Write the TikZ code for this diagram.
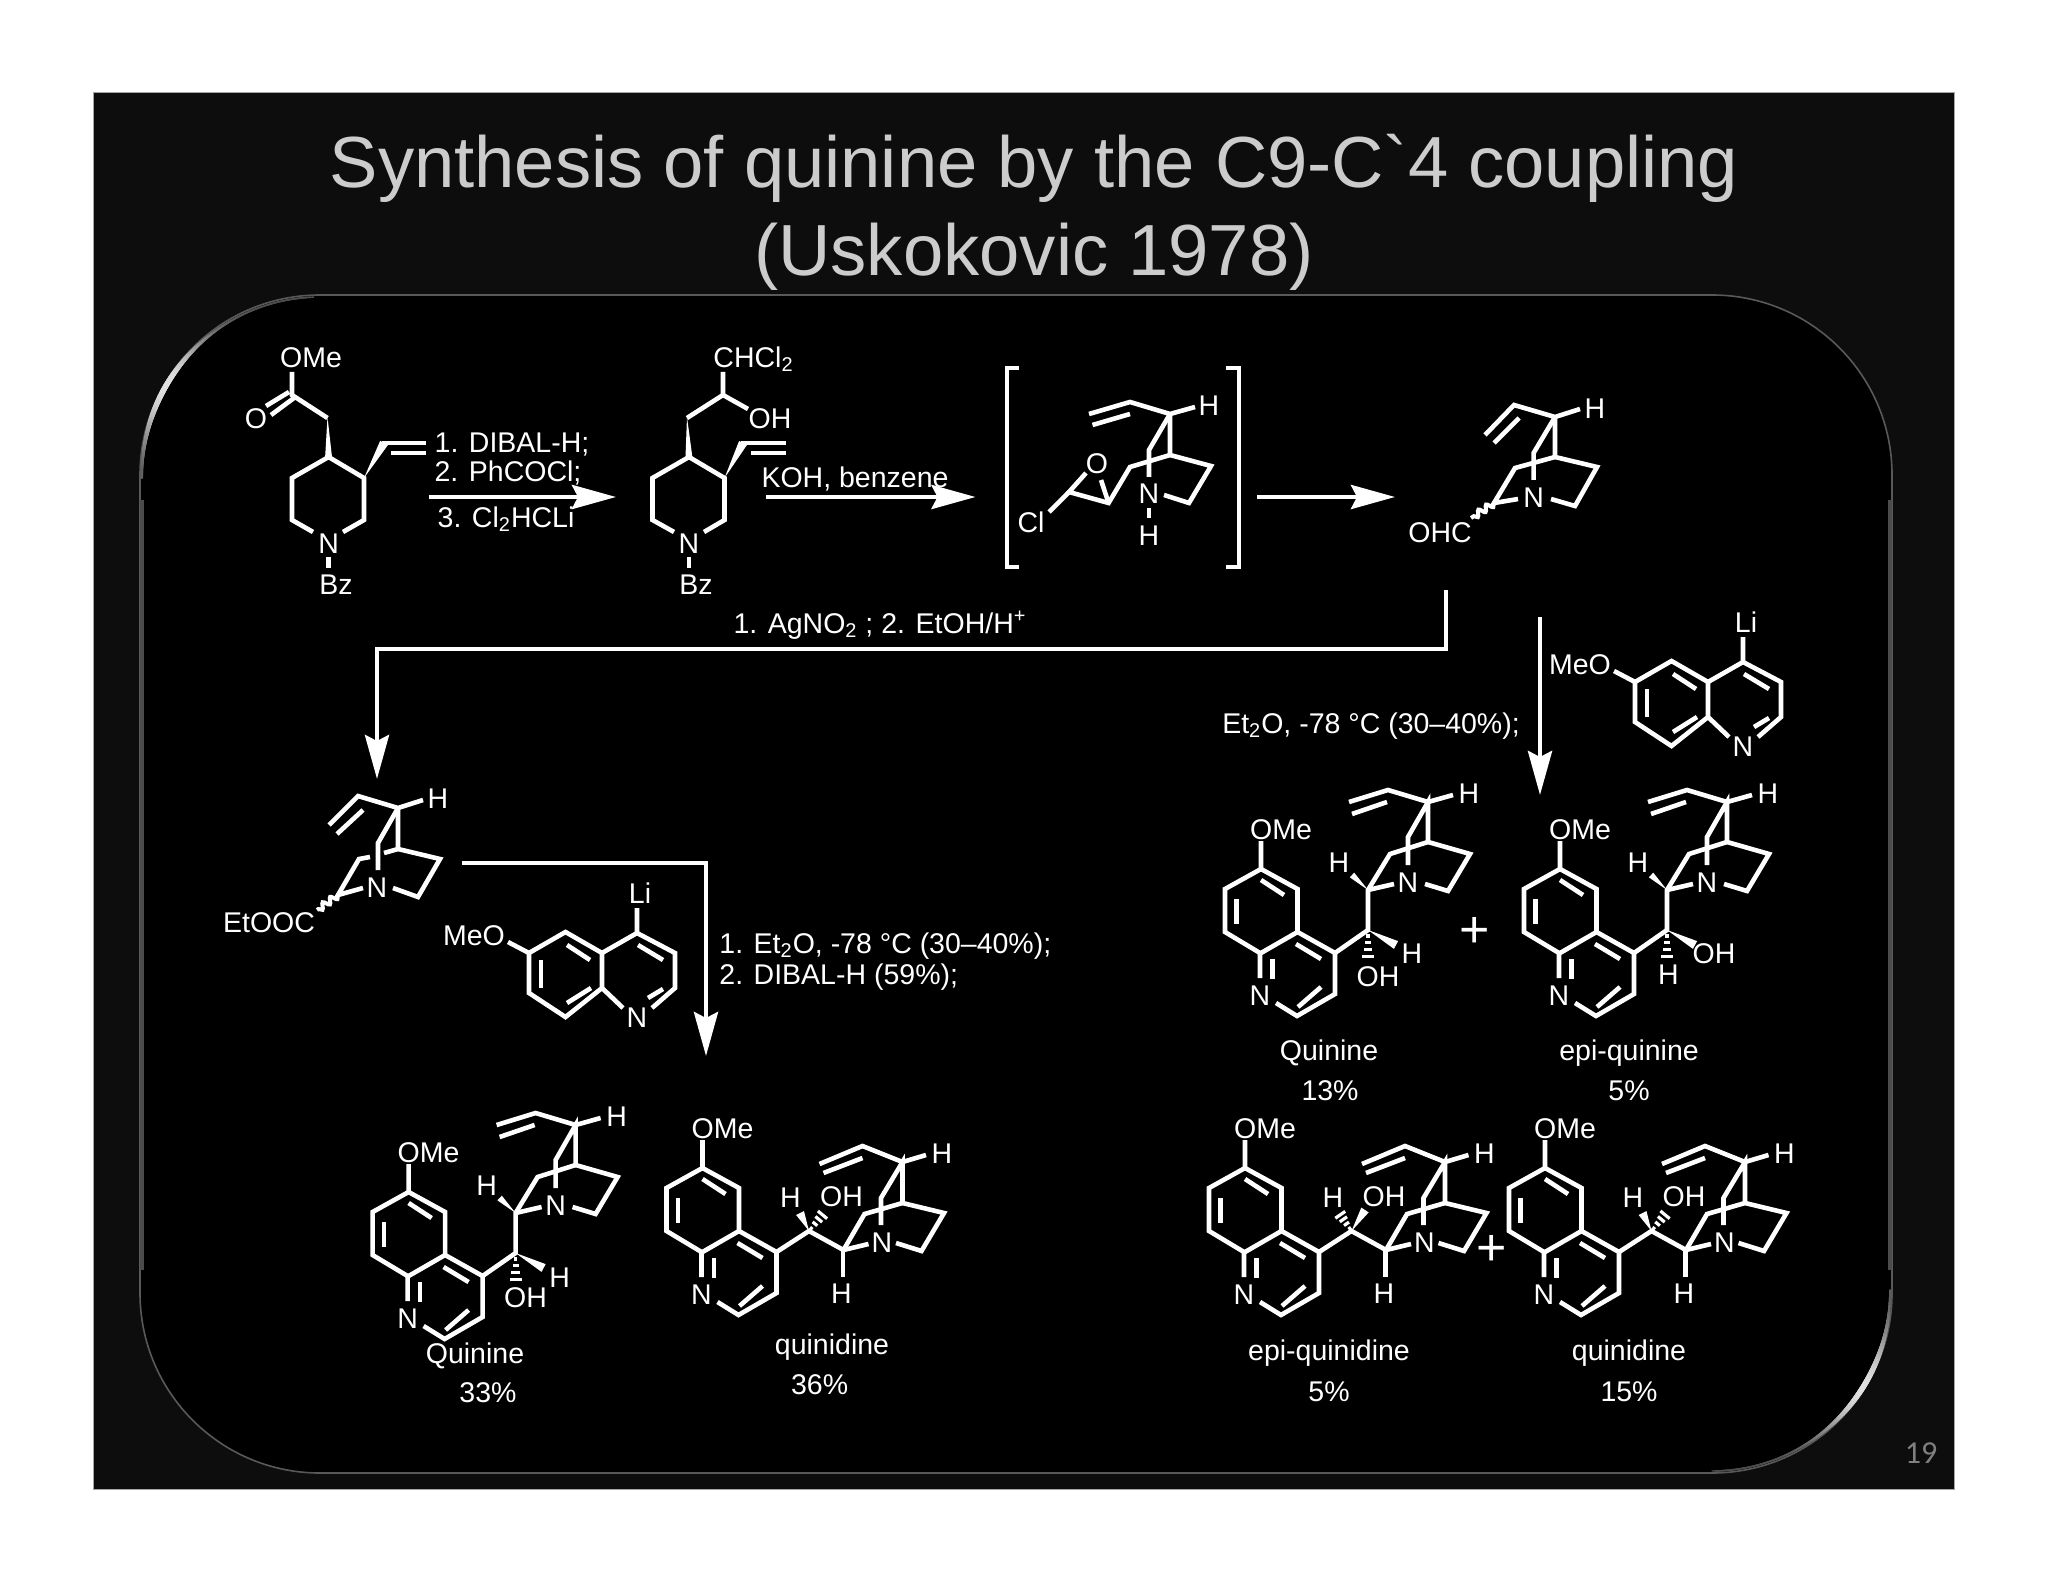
\documentclass[tikz,border=0pt]{standalone}
\usepackage{fontspec}
\setmainfont{Liberation Sans}
\newfontfamily\titlefont{Liberation Sans}
\newfontfamily\numfont{Carlito}
\usetikzlibrary{arrows.meta,calc,decorations.pathmorphing}

\tikzset{
    bond/.style={draw=white,line width=2.3pt},
    lbl/.style={text=white,inner sep=0pt,font=\fontsize{14.25}{16}\selectfont,text height=10.2pt,text depth=0pt},
    rxn/.style={draw=white,line width=2.3pt,-{Stealth[length=22pt,width=12pt,inset=3pt]}},
    wavy/.style={draw=white,line width=2pt,decorate,decoration={snake,amplitude=1.5pt,segment length=4.6pt}},
    titletext/.style={text=black!20!white,inner sep=0pt,font=\titlefont\fontsize{36.2}{40}\selectfont}
}

\newcommand{\wedgeb}[3][2.2pt]{%
    \fill[white] #2 -- ($#3!#1!90:#2$) -- ($#3!#1!-90:#2$) -- cycle;
}
\newcommand{\hashb}[2]{%
    \foreach \f/\w in {0.15/0.8pt,0.4/1.5pt,0.65/2.2pt,0.9/3pt}{
        \coordinate (hc) at ($#1!\f!#2$);
        \draw[bond,line width=1.6pt] ($(hc)!\w!90:#2$) -- ($(hc)!\w!-90:#2$);
    }
}
\newcommand{\gloss}[4]{%
    \foreach \a in {#3,...,#4}{
        \pgfmathsetmacro\lev{exp(-((\a-(#3+58))/20)^2)}
        \pgfmathsetmacro\gry{30+58*\lev}
        \pgfmathsetmacro\wid{0.7+1.9*\lev}
        \draw[color=white!\gry!black,line width=\wid pt,line cap=round]
            ({#1+178*cos(\a)},{#2-178*sin(\a)}) -- ({#1+178*cos(\a+3)},{#2-178*sin(\a+3)});
    }
}
% quinoline with the methoxy group on top, origin at C6
\newcommand{\quinolinering}[1]{%
    \draw[bond] (0,-28) -- (0,0) -- (36.5,20) -- (36.5,63) -- (74,84) -- (74,125) -- (36,147) -- (15,134);
    \draw[bond] (-1,109) -- (-1,84) -- (-36,63) -- (-36,20) -- (0,0);
    \draw[bond] (36.5,63) -- (0,84);
    \draw[bond] (0,11) -- (23,26);
    \draw[bond] (-24.5,30) -- (-24.5,55);
    \draw[bond] (35,75) -- (60,90);
    \draw[bond] (11.5,90) -- (11.5,110);
    \draw[bond] (37,138) -- (60,118);
    \node[lbl] (#1OMe) at (20,-40) {OMe};
    \node[lbl] (#1N) at (-1,126) {N};
}
\newcommand{\quininepart}[5]{%
    \draw[bond] (74,84) -- (107,61) -- (107,21) -- (129,-15) -- (167,-27);
    \draw[bond] (107,21) -- (133,15);
    \draw[bond] (147,-4) -- (147,-32) -- (167,-67) -- (167,-27) -- (209,-15) -- (187,22) -- (164,15);
    \draw[bond] (167,-67) -- (192,-74);
    \draw[bond] (167,-67) -- (127,-79) -- (88,-67);
    \draw[bond] (126,-67) -- (91,-55);
    \wedgeb[1.6pt]{(107,21)}{(91,6)}
    \wedgeb{(107,61)}{(135,76)}
    \hashb{(107,63)}{(107,90)}
    \node[lbl] (#1Ha) at (78,-7) {H};
    \node[lbl] (#1Na) at (147,13) {N};
    \node[lbl] (#1Hb) at (208,-76) {H};
    \node[lbl] (#1Wd) at #2 {#3};
    \node[lbl] (#1Hs) at #4 {#5};
}
\newcommand{\quinidinepart}[3]{%
    \draw[bond] (74,84) -- (106.5,63) -- (141,82) -- (162,46) -- (200,35) -- (200,-6) -- (178.5,30) -- (178.5,57);
    \draw[bond] (141,82) -- (166,76);
    \draw[bond] (140.5,82) -- (140.5,109);
    \draw[bond] (200,35) -- (241.5,45) -- (219,83) -- (193.5,75);
    \draw[bond] (200,-6) -- (223.5,-13);
    \draw[bond] (200,-6) -- (160,-22) -- (117,-4);
    \draw[bond] (160,-10) -- (121,5);
    \wedgeb{(106.5,63)}{#2}
    \hashb{(106.5,63)}{#3}
    \node[lbl] (#1Ha) at (88,29) {H};
    \node[lbl] (#1OH) at (139,28) {OH};
    \node[lbl] (#1Hc) at (139,125) {H};
    \node[lbl] (#1Na) at (179.5,74) {N};
    \node[lbl] (#1Hb) at (239.5,-15) {H};
}
% 4-lithio-6-methoxyquinoline, origin at C4
\newcommand{\lithioquinoline}[1]{%
    \draw[bond] (0,-25) -- (0,0) -- (38,20) -- (38,55) -- (15,75);
    \draw[bond] (-14,75) -- (-35,55) -- (-35,20) -- (-71.5,-1) -- (-108,20) -- (-108,60) -- (-71.5,84) -- (-35,55);
    \draw[bond] (-35,20) -- (0,0);
    \draw[bond] (-129,9) -- (-108,20);
    \draw[bond] (-70,12) -- (-47,27);
    \draw[bond] (-96,27) -- (-96,55);
    \draw[bond] (-70,70) -- (-46,55);
    \draw[bond] (1,12) -- (26,27);
    \draw[bond] (11,65) -- (26,56);
    \node[lbl] (#1Li) at (3,-40) {Li};
    \node[lbl] (#1N) at (0,84) {N};
    \node[lbl] (#1MeO) at (-163,2) {MeO};
}

\begin{document}
\begin{tikzpicture}[x=0.5pt,y=-0.5pt]
    \useasboundingbox (0,0) rectangle (2048,1582);
    \fill[white] (0,0) rectangle (2048,1582);
    \draw[fill=black!95!white,draw=black!35!white,line width=0.5pt] (93,93) rectangle (1954,1489);
    \draw[fill=black,draw=black!65!white,line width=0.8pt,rounded corners=90pt] (140,295) rectangle (1892,1473);
    \gloss{320}{475}{92}{178}
    \gloss{1712}{1293}{-90}{-2}
    \draw[draw=black!70!white,line width=2pt] (142,500) -- (142,1270);
    \draw[draw=black!70!white,line width=2pt] (1890,500) -- (1890,1270);

    \node[titletext] (titlea) at (1034,168) {Synthesis of quinine by the C9-C`4 coupling};
    \node[titletext] (titleb) at (1034,257) {(Uskokovic 1978)};

    % piperidine ester
    \draw[bond] (313,532) -- (292,520) -- (292,478) -- (328.6,457) -- (364,478) -- (364,520) -- (343,532);
    \draw[bond] (328.6,557) -- (328.6,568);
    \wedgeb[1.8pt]{(327.5,417)}{(328.6,459)}
    \draw[bond] (327.5,418) -- (292,395) -- (292,372);
    \draw[bond] (289,392) -- (266,406);
    \draw[bond] (294,398) -- (271,415);
    \wedgeb{(364,478)}{(384,443)}
    \draw[bond] (382,443) -- (425.5,443);
    \draw[bond] (391,453) -- (425.5,453);
    \node[lbl] (esterOMe) at (311,357) {OMe};
    \node[lbl] (esterO) at (256,418) {O};
    \node[lbl] (esterN) at (328.6,543) {N};
    \node[lbl] (esterBz) at (336,584) {Bz};
    \node[lbl] (stepa) at (512,442) {1. DIBAL-H;};
    \node[lbl] (stepb) at (508,471) {2. PhCOCl;};
    \node[lbl] (stepc) at (506,517) {3. Cl\textsubscript{2}HCLi};
    \coordinate (arrowaS) at (429,497);
    \coordinate (arrowaE) at (616,497);
    \draw[rxn] (arrowaS) -- (arrowaE);

    % chlorohydrin
    \draw[bond] (674,532) -- (652.5,520) -- (652.5,478) -- (689,457) -- (724.5,478) -- (724.5,520) -- (704,532);
    \draw[bond] (689,557) -- (689,568);
    \wedgeb[1.8pt]{(687,417)}{(689,459)}
    \draw[bond] (687,418) -- (723,395) -- (723,372);
    \draw[bond] (723,395) -- (748,409);
    \wedgeb{(724.5,478)}{(743,443)}
    \draw[bond] (741,443) -- (786,443);
    \draw[bond] (751,453) -- (786,453);
    \node[lbl] (chlorCH) at (753.5,357) {CHCl\textsubscript{2}};
    \node[lbl] (chlorOH) at (770,418) {OH};
    \node[lbl] (chlorN) at (689,543) {N};
    \node[lbl] (chlorBz) at (696,584) {Bz};
    \node[lbl] (stepkoh) at (855,477) {KOH, benzene};
    \coordinate (arrowbS) at (766,497);
    \coordinate (arrowbE) at (975.5,497);
    \draw[rxn] (arrowbS) -- (arrowbE);

    % epoxide in brackets
    \draw[bond,line width=1.9pt] (1019,368) -- (1007,368) -- (1007,567) -- (1019,567);
    \draw[bond,line width=1.9pt] (1226,368) -- (1239,368) -- (1239,567) -- (1226,567);
    \draw[bond] (1195,407) -- (1170,414) -- (1130,402) -- (1089,414);
    \draw[bond] (1130,414) -- (1092.5,425);
    \draw[bond] (1170,414) -- (1149,450) -- (1149,477);
    \draw[bond] (1149,508) -- (1149,518);
    \draw[bond] (1170,414) -- (1170,455) -- (1211,466) -- (1189,503) -- (1164,495);
    \draw[bond] (1170,455) -- (1130,467) -- (1108.6,503) -- (1069,492) -- (1086,473);
    \draw[bond] (1108.6,503) -- (1101,480);
    \draw[bond] (1069,492) -- (1049,512);
    \node[lbl] (epoxH) at (1209,405) {H};
    \node[lbl] (epoxO) at (1097,463) {O};
    \node[lbl] (epoxN) at (1149,493) {N};
    \node[lbl] (epoxHb) at (1149,535) {H};
    \node[lbl] (epoxCl) at (1031,522) {Cl};
    \coordinate (arrowcS) at (1257,497);
    \coordinate (arrowcE) at (1395,497);
    \draw[rxn] (arrowcS) -- (arrowcE);

    % aldehyde
    \draw[bond] (1580,409) -- (1555,417) -- (1514,405) -- (1485,435);
    \draw[bond] (1519,418) -- (1494,443);
    \draw[bond] (1555,417) -- (1533.6,453) -- (1533.6,480);
    \draw[bond] (1555,417) -- (1555,457) -- (1597,467) -- (1575,506) -- (1551,499);
    \draw[bond] (1555,457) -- (1515,468) -- (1494,503) -- (1518,499);
    \draw[wavy] (1494,503) -- (1471,518);
    \node[lbl] (aldH) at (1595,408) {H};
    \node[lbl] (aldN) at (1533.6,497) {N};
    \node[lbl] (aldOHC) at (1440,532) {OHC};

    % ester route
    \coordinate (arrowdS) at (1446,590);
    \coordinate (arrowdB) at (1446,649);
    \coordinate (arrowdC) at (377,649);
    \coordinate (arrowdE) at (377,779);
    \draw[rxn] (arrowdS) -- (arrowdB) -- (arrowdC) -- (arrowdE);
    \node[lbl] (stepag) at (880,623) {1. AgNO\textsubscript{2} ; 2. EtOH/H\textsuperscript{+}};

    \draw[bond] (423,800) -- (398,808) -- (358,796) -- (329,825);
    \draw[bond] (363,810) -- (337,834);
    \draw[bond] (398,808) -- (378,843) -- (378,870);
    \draw[bond] (398,808) -- (398,849) -- (440,859) -- (418,897) -- (393,888);
    \draw[bond] (398,849) -- (384,853);
    \draw[bond] (370,857) -- (359,859) -- (338,895) -- (363,888);
    \draw[wavy] (338,895) -- (317,910);
    \node[lbl] (estH) at (438,798) {H};
    \node[lbl] (estN) at (377,887) {N};
    \node[lbl] (estCOO) at (269,922) {EtOOC};

    \coordinate (arroweS) at (462,863);
    \coordinate (arroweB) at (706,863);
    \coordinate (arroweE) at (706,1056);
    \draw[rxn] (arroweS) -- (arroweB) -- (arroweE);
    \node[lbl,anchor=west] (stepet) at (719,943) {1. Et\textsubscript{2}O, -78 °C (30–40\%);};
    \node[lbl,anchor=west] (stepdb) at (719,974) {2. DIBAL-H (59\%);};

    \begin{scope}[shift={(637,933)}]
        \lithioquinoline{lia}
    \end{scope}

    \begin{scope}[shift={(408.6,1192)}]
        \quinolinering{qa}
        \quininepart{qa}{(151,85)}{H}{(117,105)}{OH}
    \end{scope}
    \node[lbl] (qaName) at (475,1353) {Quinine};
    \node[lbl] (qaYield) at (488,1392) {33\%};

    \begin{scope}[shift={(702.5,1168)}]
        \quinolinering{qb}
        \quinidinepart{qb}{(97.5,45)}{(121.5,45)}
    \end{scope}
    \node[lbl] (qbName) at (832,1344) {quinidine};
    \node[lbl] (qbYield) at (819.6,1384) {36\%};

    % organolithium route
    \coordinate (arrowfS) at (1540,617);
    \coordinate (arrowfE) at (1540,795);
    \draw[rxn] (arrowfS) -- (arrowfE);
    \node[lbl] (stepli) at (1371,723) {Et\textsubscript{2}O, -78 °C (30–40\%);};
    \begin{scope}[shift={(1743,662)}]
        \lithioquinoline{lib}
    \end{scope}

    \begin{scope}[shift={(1261,869)}]
        \quinolinering{qc}
        \quininepart{qc}{(151,84)}{H}{(117,107)}{OH}
    \end{scope}
    \node[lbl] (qcName) at (1329,1050) {Quinine};
    \node[lbl] (qcYield) at (1330,1090) {13\%};
    \node[lbl,font=\fontsize{26}{28}\selectfont,text height=18pt] (plusa) at (1475,929) {+};

    \begin{scope}[shift={(1560,869)}]
        \quinolinering{qd}
        \quininepart{qd}{(154,84)}{OH}{(108.5,105)}{H}
    \end{scope}
    \node[lbl] (qdName) at (1629,1050) {epi-quinine};
    \node[lbl] (qdYield) at (1629,1090) {5\%};

    \begin{scope}[shift={(1245,1168)}]
        \quinolinering{qe}
        \quinidinepart{qe}{(120,42)}{(94,45)}
    \end{scope}
    \node[lbl] (qeName) at (1329,1350) {epi-quinidine};
    \node[lbl] (qeYield) at (1329,1391) {5\%};
    \node[lbl,font=\fontsize{26}{28}\selectfont,text height=18pt] (plusb) at (1492,1247) {+};

    \begin{scope}[shift={(1545,1168)}]
        \quinolinering{qf}
        \quinidinepart{qf}{(97.5,45)}{(121.5,45)}
    \end{scope}
    \node[lbl] (qfName) at (1629,1350) {quinidine};
    \node[lbl] (qfYield) at (1629,1391) {15\%};

    \node[text=black!50!white,inner sep=0pt,font=\numfont\fontsize{16}{18}\selectfont] (pagenum) at (1921,1453) {19};
\end{tikzpicture}
\end{document}
